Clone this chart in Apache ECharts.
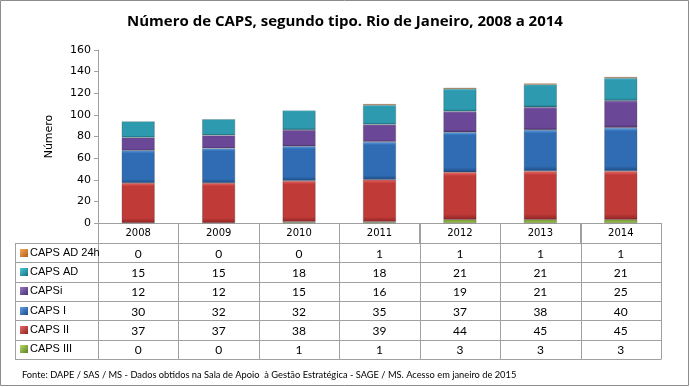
<!DOCTYPE html>
<html><head><meta charset="utf-8">
<script src="https://cdn.jsdelivr.net/npm/echarts@6/dist/echarts.min.js"></script>
<style>html,body{margin:0;padding:0;background:#fff}#c{width:690px;height:387px}</style>
</head><body><div id="c"></div>
<script>
const years = ['2008','2009','2010','2011','2012','2013','2014'];
// top-to-bottom table order
const seriesNames = ['CAPS AD 24h','CAPS AD','CAPSi','CAPS I','CAPS II','CAPS III'];
const capsAD24h = [0,0,0,1,1,1,1];
const capsAD    = [15,15,18,18,21,21,21];
const capsI_inf = [12,12,15,16,19,21,25];
const capsI     = [30,32,32,35,37,38,40];
const capsII    = [37,37,38,39,44,45,45];
const capsIII   = [0,0,1,1,3,3,3];
const yTicks = [0,20,40,60,80,100,120,140,160];

const tableData = [capsAD24h, capsAD, capsI_inf, capsI, capsII, capsIII];
const colors = {
  'CAPS AD 24h':['#F6A95A','#E7842B','#B45F17'],
  'CAPS AD':['#49C9DD','#2E9AAF','#1E6E80'],
  'CAPSi':['#9878C6','#6A4897','#49306C'],
  'CAPS I':['#5FA2E8','#2F6CB3','#1F4C85'],
  'CAPS II':['#EC6A67','#C03A38','#8A2424'],
  'CAPS III':['#B6DA66','#8DB53D','#5F7F25']
};
function grad(n){
  const c = colors[n];
  return new echarts.graphic.LinearGradient(0,0,0,1,[
    {offset:0,color:c[0]},{offset:0.08,color:c[1]},{offset:0.88,color:c[1]},{offset:1,color:c[2]}
  ]);
}
const chart = echarts.init(document.getElementById('c'));
const stackOrder = [5,4,3,2,1,0]; // bottom to top
const series = stackOrder.map(i => ({
  name: seriesNames[i], type:'bar', stack:'s', barWidth:'41%',
  data: tableData[i].map(v => ({value:v, itemStyle: v===0 ? {opacity:0} : {}})),
  itemStyle:{color:grad(seriesNames[i]), borderColor:'rgba(60,60,60,0.25)', borderWidth:0.6},
  emphasis:{disabled:true}, animation:false
}));
chart.setOption({
  animation:false,
  title:{text:'Número de CAPS, segundo tipo. Rio de Janeiro, 2008 a 2014', left:'center', top:9,
    textStyle:{fontFamily:'Open Sans', fontWeight:'bold', fontSize:15, color:'#000'}},
  grid:{left:98, right:29, top:50, bottom:164},
  xAxis:{type:'category', data:years,
    axisLine:{lineStyle:{color:'#A0A0A0'}},
    axisTick:{show:true, length:20, interval:0, lineStyle:{color:'#A0A0A0'}},
    axisLabel:{fontFamily:'DejaVu Sans', fontSize:10, color:'#000', margin:5}},
  yAxis:{type:'value', min:0, max:160, interval:20, name:'Número', nameLocation:'middle', nameGap:43,
    nameTextStyle:{fontFamily:'DejaVu Sans', fontSize:11, color:'#000'},
    axisLine:{show:true, lineStyle:{color:'#A0A0A0'}},
    axisTick:{show:true, length:4, lineStyle:{color:'#A0A0A0'}},
    splitLine:{show:false},
    axisLabel:{fontFamily:'DejaVu Sans', fontSize:11, color:'#000', margin:7}},
  series: series
});

// data table built from arrays, positioned through the axis scale
const c0 = chart.convertToPixel({xAxisIndex:0}, years[0]);
const c1 = chart.convertToPixel({xAxisIndex:0}, years[1]);
const bw = c1 - c0;
const x0 = c0 - bw/2;
const xEnd = x0 + bw*years.length;
const yAxisBase = chart.convertToPixel({yAxisIndex:0}, 0);
const rowTop = yAxisBase + 20;
const rowH = 19.35;
const tableLeft = 15;
const lineColor = '#A0A0A0';
const g = [];
g.push({type:'rect', shape:{x:0.5,y:0.5,width:688,height:385}, style:{fill:'none', stroke:'#8C8C8C', lineWidth:1}});
for(let r=0;r<=seriesNames.length;r++){
  const y = Math.round(rowTop + r*rowH)+0.5;
  g.push({type:'line', shape:{x1:tableLeft, y1:y, x2:xEnd, y2:y}, style:{stroke:lineColor, lineWidth:1}});
}
const yBottom = Math.round(rowTop + seriesNames.length*rowH)+0.5;
g.push({type:'line', shape:{x1:tableLeft+0.5, y1:Math.round(rowTop)+0.5, x2:tableLeft+0.5, y2:yBottom}, style:{stroke:lineColor}});
for(let k=0;k<=years.length;k++){
  const x = Math.round(x0 + k*bw)+0.5;
  g.push({type:'line', shape:{x1:x, y1:yAxisBase, x2:x, y2:yBottom}, style:{stroke:lineColor}});
}
seriesNames.forEach((n,r)=>{
  const yc = rowTop + r*rowH + rowH/2;
  g.push({type:'rect', shape:{x:20, y:Math.round(yc)-4, width:8, height:8},
    style:{fill:new echarts.graphic.LinearGradient(0,0,1,1,[{offset:0,color:colors[n][0]},{offset:1,color:colors[n][2]}])}});
  g.push({type:'text', x:30, y:yc, style:{text:n, fontFamily:'Liberation Sans', fontSize:11, fill:'#000', verticalAlign:'middle'}});
  tableData[r].forEach((v,k)=>{
    g.push({type:'text', x:x0 + bw*(k+0.5), y:yc+1, style:{text:String(v), fontFamily:'Lato', fontSize:12, fill:'#000', align:'center', verticalAlign:'middle'}});
  });
});
g.push({type:'text', x:22, y:375, style:{text:'Fonte: DAPE / SAS / MS - Dados obtidos na Sala de Apoio  à Gestão Estratégica - SAGE / MS. Acesso em janeiro de 2015', fontFamily:'Lato', fontSize:9.3, fill:'#000', verticalAlign:'middle'}});
chart.setOption({graphic:g});
</script></body></html>
